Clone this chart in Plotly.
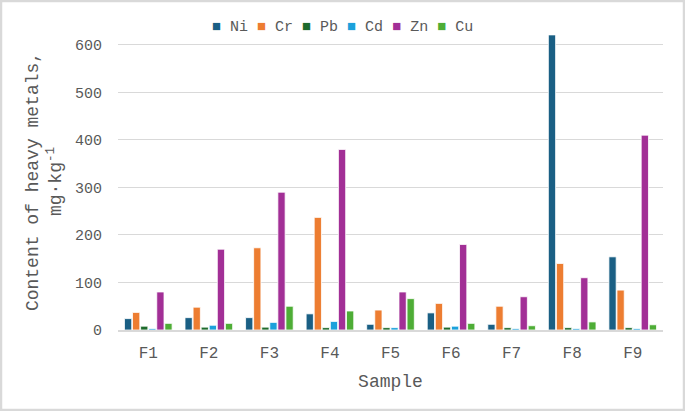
import plotly.graph_objects as go

samples = ["F1", "F2", "F3", "F4", "F5", "F6", "F7", "F8", "F9"]

ni = [24, 26, 26, 34, 12, 36, 12, 621, 154]
cr = [37, 48, 173, 237, 42, 56, 50, 140, 84]
pb = [8, 6, 6, 5, 5, 6, 5, 5, 5]
cd = [3, 10, 16, 18, 5, 8, 3, 3, 3]
zn = [80, 170, 290, 380, 80, 180, 70, 110, 410]
cu = [14, 14, 50, 40, 66, 14, 9, 17, 11]

metals = ["Ni", "Cr", "Pb", "Cd", "Zn", "Cu"]
values = [ni, cr, pb, cd, zn, cu]
colors = ["#1a5f84", "#ed7d31", "#1e6b2c", "#1ba1db", "#a22f96", "#4ead36"]

W, H = 685, 411
ml, mr, mt, mb = 118, 22, 33, 81
pw = W - ml - mr
ph = H - mt - mb

fnt = "Liberation Mono, Courier New, monospace"
grey = "#595959"

fig = go.Figure()
for name, vals, col in zip(metals, values, colors):
    fig.add_trace(go.Bar(x=samples, y=vals, name=name, showlegend=False,
                         marker=dict(color=col, line=dict(color="white", width=0.8))))

# legend drawn as one line of text, squares coloured per metal
legend_txt = " ".join(
    "<span style='color:%s'>■</span> %s" % (c, m) for m, c in zip(metals, colors))

fig.update_layout(
    width=W, height=H,
    margin=dict(l=ml, r=mr, t=mt, b=mb),
    paper_bgcolor="white", plot_bgcolor="white",
    barmode="group", bargap=0.2, bargroupgap=0.1,
    font=dict(family=fnt, size=15, color=grey),
    xaxis=dict(showgrid=False, showline=True, linecolor="#d9d9d9", linewidth=1.5,
               ticks="", ticklabelstandoff=7,
               tickfont=dict(family=fnt, size=16, color=grey),
               title=dict(text="Sample", font=dict(family=fnt, size=18, color=grey),
                          standoff=12)),
    yaxis=dict(range=[0, 625], tickvals=[0, 100, 200, 300, 400, 500, 600],
               showgrid=True, gridcolor="#d9d9d9", gridwidth=1, zeroline=False,
               showline=False, ticks="", ticklabelstandoff=15,
               tickfont=dict(family=fnt, size=15, color=grey),
               title=dict(text="Content of heavy metals,<br>mg·kg<sup>-1</sup>",
                          font=dict(family=fnt, size=18, color=grey), standoff=8)),
    annotations=[dict(text=legend_txt, xref="paper", yref="paper",
                      x=0.5 - (ml - mr) / 2 / pw, y=1 + 6 / ph,
                      xanchor="center", yanchor="middle", showarrow=False,
                      font=dict(family=fnt, size=15, color=grey))],
    shapes=[dict(type="rect", xref="paper", yref="paper",
                 x0=-(ml - 1) / pw, x1=1 + (mr - 1) / pw,
                 y0=-(mb - 1) / ph, y1=1 + (mt - 1) / ph,
                 line=dict(color="#d9d9d9", width=2.5), layer="below")],
)

fig.write_html("out.html", config={"displayModeBar": False},
               post_script="document.body.style.margin='0';")
